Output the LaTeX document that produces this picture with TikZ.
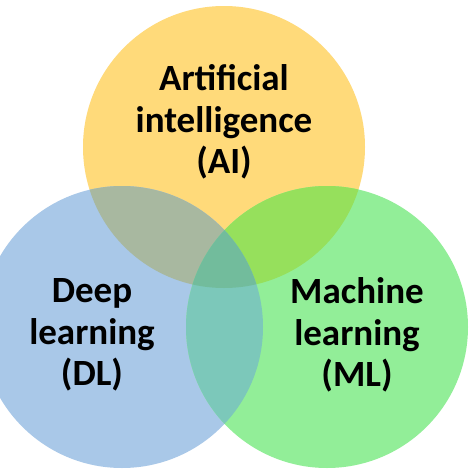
\documentclass[tikz,border=0pt]{standalone}
\usepackage{fontspec}
\setmainfont{Carlito}
\definecolor{cAI}{RGB}{255,218,122}
\definecolor{cDL}{RGB}{169,200,232}
\definecolor{cML}{RGB}{146,238,152}
\definecolor{cAIDL}{RGB}{168,184,160}
\definecolor{cAIML}{RGB}{150,224,92}
\definecolor{cDLML}{RGB}{124,200,186}
\definecolor{cALL}{RGB}{114,188,156}
\tikzset{
  lbl/.style={align=center, font=\fontsize{37}{41.5}\selectfont\bfseries, text=black, inner sep=0pt},
}
\begin{document}
\begin{tikzpicture}[x=1pt,y=-1pt]
\clip (0,0) rectangle (474,474);
\fill[white] (0,0) rectangle (474,474);
\def\ai{(224,147) circle (141)}
\def\dl{(122,327) circle (141)}
\def\ml{(327,327) circle (141)}
\fill[cAI] \ai;
\fill[cDL] \dl;
\fill[cML] \ml;
\begin{scope}
  \clip \ai; \fill[cAIDL] \dl;
\end{scope}
\begin{scope}
  \clip \ai; \fill[cAIML] \ml;
\end{scope}
\begin{scope}
  \clip \dl; \fill[cDLML] \ml;
\end{scope}
\begin{scope}
  \clip \ai; \clip \dl; \fill[cALL] \ml;
\end{scope}
\node[lbl] (ai) at (224,122) {Artificial\\intelligence\\(AI)};
\node[lbl] (dl) at (92,335) {Deep\\learning\\(DL)};
\node[lbl] (ml) at (357,335) {Machine\\learning\\(ML)};
\end{tikzpicture}
\end{document}
